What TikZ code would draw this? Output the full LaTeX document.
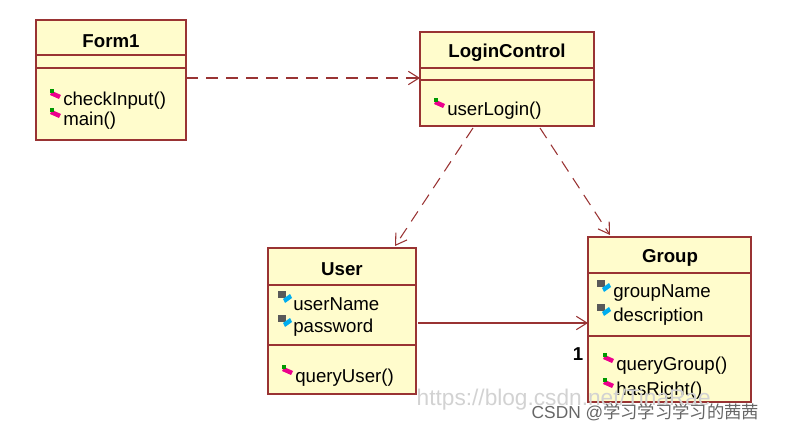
\documentclass[tikz,border=0pt]{standalone}
\usepackage{fontspec}
\setmainfont{Liberation Sans}
\newfontfamily\cjk{Noto Sans CJK SC}
\usetikzlibrary{arrows.meta}
\begin{document}
\begin{tikzpicture}[x=0.75pt,y=-0.75pt,
  box/.style={draw=red!50!black!80,fill=yellow!20,line width=0.9pt},
  sep/.style={draw=red!50!black!80,line width=0.9pt},
  ttl/.style={font=\fontsize{14}{16}\selectfont\bfseries},
  mem/.style={anchor=west,font=\fontsize{14}{16}\selectfont,inner sep=0pt},
  dep/.style={draw=red!50!black!80,line width=0.8pt,dash pattern=on 9pt off 6pt,-{Straight Barb[length=8pt,width=10pt]}},
  asc/.style={draw=red!50!black!80,line width=0.8pt,-{Straight Barb[length=8pt,width=10pt]}}]
\useasboundingbox (0,0) rectangle (793,431);
\newcommand\mico[1]{\fill[magenta] (#1) ++(-5,-4) -- ++(9,4) -- ++(-2,4) -- ++(-9,-4) -- cycle; \fill[green!60!black] (#1) ++(-7,-6) rectangle ++(4,4);}
\newcommand\aico[1]{\fill[gray!70!black] (#1) ++(-10,-7) rectangle ++(8,7); \fill[cyan] (#1) ++(-5,1) -- ++(7,-5) -- ++(2,4) -- ++(-7,5) -- cycle;}
% Form1
\path[box] (36,20) rectangle (186,140);
\draw[sep] (36,55) -- (186,55) (36,68) -- (186,68);
\node[ttl] (f1) at (111,41) {Form1};
\mico{57,95}\node[mem] (f1a) at (63,101) {checkInput()};
\mico{57,114}\node[mem] (f1b) at (63,121) {main()};
\coordinate (f1r) at (186,78);
% LoginControl
\path[box] (420,32) rectangle (594,126);
\draw[sep] (420,68) -- (594,68) (420,80) -- (594,80);
\node[ttl] (lc) at (507,53) {LoginControl};
\mico{441,104}\node[mem] (lca) at (447,111) {userLogin()};
\coordinate (lcl) at (420,78);
% User
\path[box] (268,248) rectangle (416,394);
\draw[sep] (268,285) -- (416,285) (268,345) -- (416,345);
\node[ttl] (us) at (342,269) {User};
\aico{288,298}\node[mem] (usa) at (293,304) {userName};
\aico{288,322}\node[mem] (usb) at (293,328) {password};
\mico{289,371}\node[mem] (usc) at (295,378) {queryUser()};
% Group
\path[box] (588,237) rectangle (751,402);
\draw[sep] (588,273) -- (751,273) (588,336) -- (751,336);
\node[ttl] (gr) at (670,258) {Group};
\aico{607,287}\node[mem] (gra) at (613,293) {groupName};
\aico{607,311}\node[mem] (grb) at (613,317) {description};
\mico{610,359}\node[mem] (grc) at (616,366) {queryGroup()};
\mico{610,384}\node[mem] (grd) at (616,391) {hasRight()};
% connectors
\coordinate (lcb1) at (473,128); \coordinate (ust) at (395,246);
\coordinate (lcb2) at (540,128); \coordinate (grt) at (610,235);
\coordinate (usr) at (418,323); \coordinate (grl) at (588,323);
\draw[dep] (f1r) -- (lcl);
\draw[dep] (lcb1) -- (ust);
\draw[dep] (lcb2) -- (grt);
\draw[asc] (usr) -- (grl);
\node[font=\fontsize{14}{16}\selectfont\bfseries] (one) at (578,354) {1};
% watermark
\node[text=gray!35,font=\fontsize{17}{19}\selectfont,anchor=west] (wm1) at (412,400) {https://blog.csdn.net/TinaRae};
\node[text=gray!80!black,font=\fontsize{13}{15}\selectfont,anchor=west] (wm2) at (527,412) {CSDN @{\cjk 学习学习学习的茜茜}};
\end{tikzpicture}
\end{document}
